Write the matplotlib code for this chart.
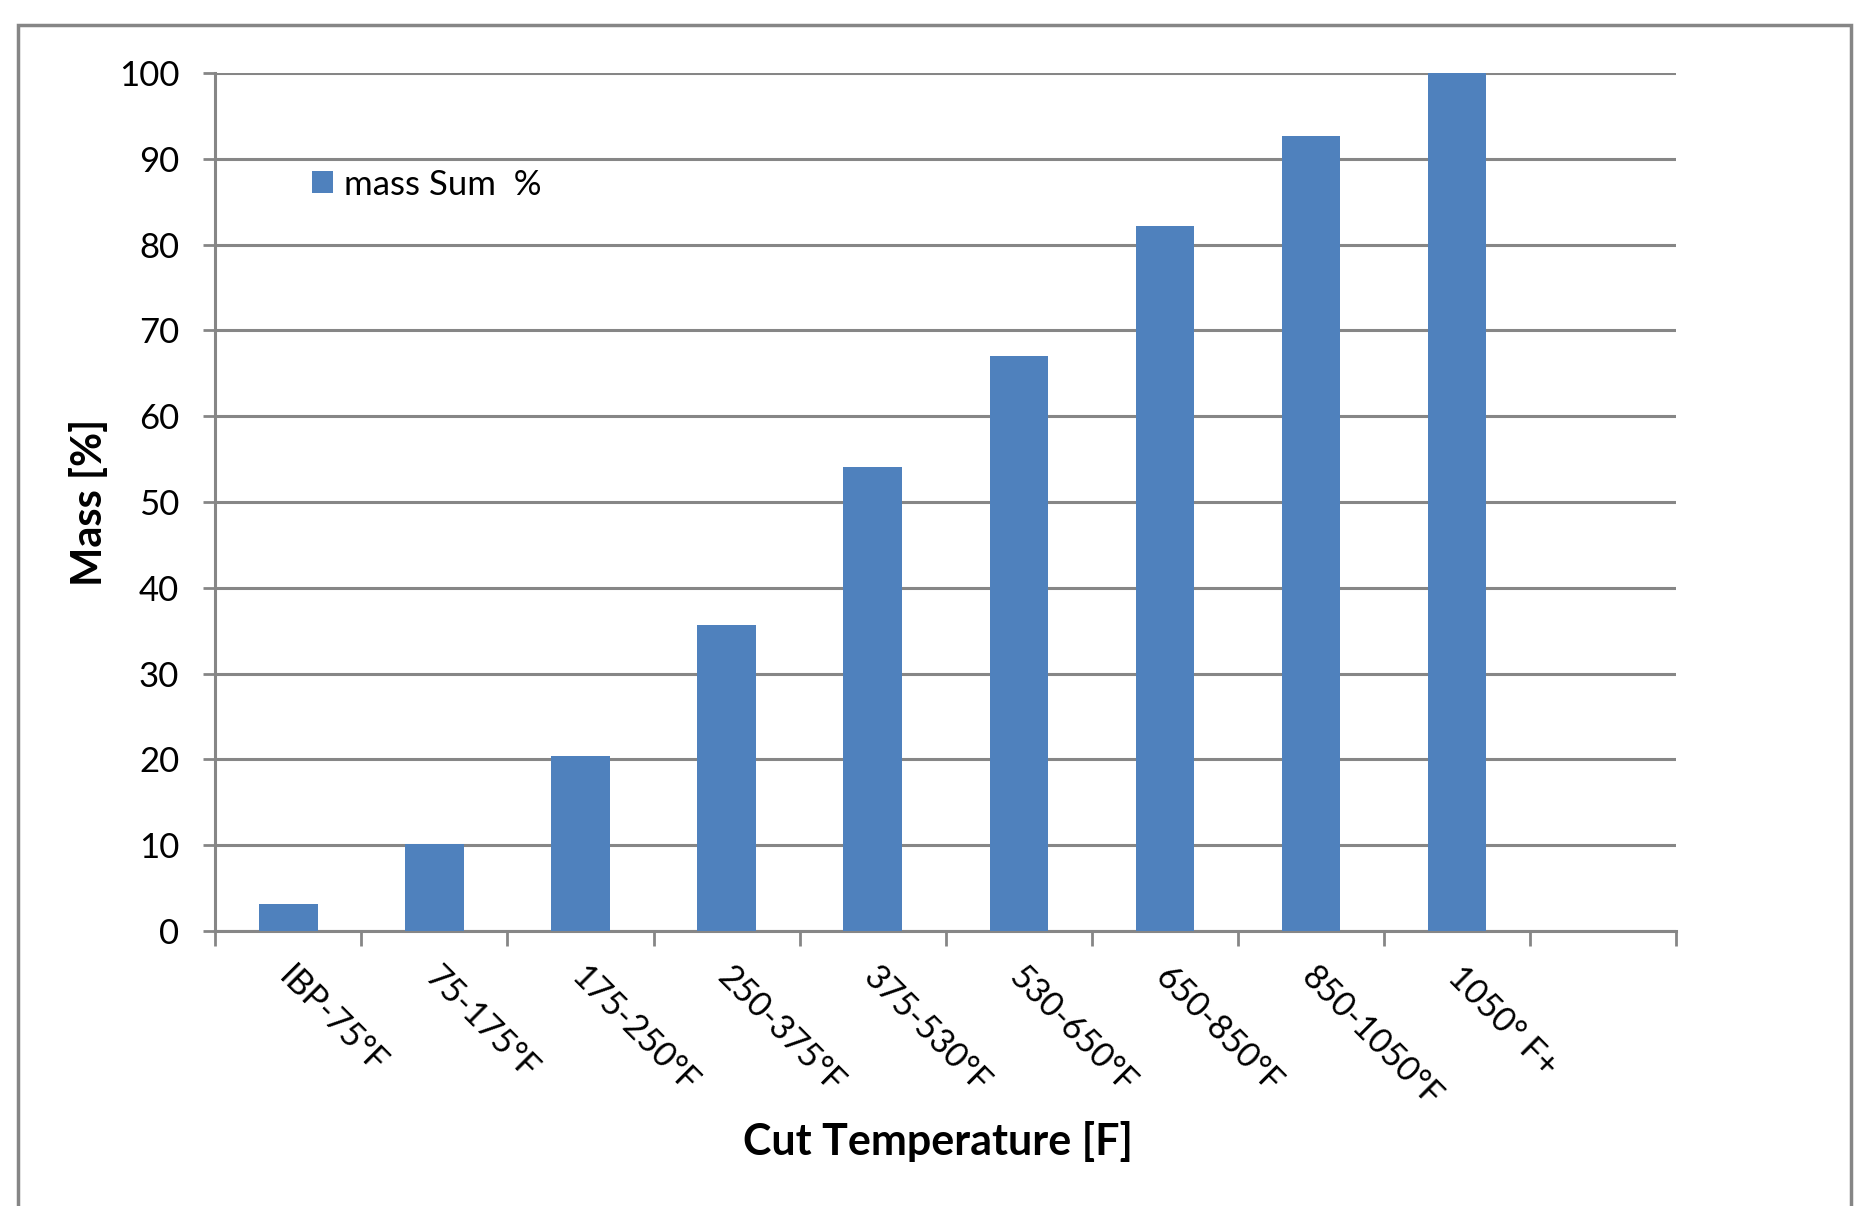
import matplotlib.pyplot as plt
import matplotlib.transforms as mtransforms
from matplotlib.patches import Rectangle
from matplotlib.ticker import FixedLocator

categories = ["IBP-75°F", "75-175°F", "175-250°F", "250-375°F", "375-530°F",
              "530-650°F", "650-850°F", "850-1050°F", "1050° F+"]
mass_sum = [3.2, 10.2, 20.4, 35.7, 54.1, 67.0, 82.2, 92.7, 100.0]
y_ticks = [0, 10, 20, 30, 40, 50, 60, 70, 80, 90, 100]

grey = "#868686"
plt.rcParams['font.family'] = ['Lato', 'DejaVu Sans']

fig = plt.figure(figsize=(18.66, 12.06), dpi=100)
ax = fig.add_axes([0.1154, 0.228, 0.7828, 0.7115])

# outer chart border (bottom edge runs off the picture)
fig.patches.append(Rectangle((0.0096, -0.05), 0.9824, 1.029, transform=fig.transFigure,
                             fill=False, edgecolor=grey, linewidth=2.5))

x = list(range(len(categories)))
ax.bar(x, mass_sum, width=0.4, color="#4F81BD", label="mass Sum  %", zorder=3)

ax.set_xlim(-0.5, len(categories) + 0.5)
ax.set_ylim(0, 100)
ax.set_yticks(y_ticks)
ax.set_yticklabels([str(v) for v in y_ticks], fontsize=25)
ax.yaxis.grid(True, color=grey, linewidth=2.2, zorder=1)
ax.tick_params(axis='y', length=9, width=2, color=grey, pad=17)

ax.set_xticks(x)
ax.set_xticklabels(categories, rotation=-45, ha='left', va='top',
                   rotation_mode='anchor', fontsize=24.5)
ax.tick_params(axis='x', which='major', length=0, pad=25)
shift = mtransforms.ScaledTranslation(0.07, 0.05, fig.dpi_scale_trans)
for lbl in ax.get_xticklabels():
    lbl.set_transform(lbl.get_transform() + shift)
ax.xaxis.set_minor_locator(FixedLocator([i - 0.5 for i in range(len(categories) + 2)]))
ax.tick_params(axis='x', which='minor', length=11, width=2, color=grey)

for side in ['top', 'right']:
    ax.spines[side].set_visible(False)
for side in ['left', 'bottom']:
    ax.spines[side].set_color(grey)
    ax.spines[side].set_linewidth(2.2)

ax.set_ylabel("Mass [%]", fontsize=30, fontweight='bold')
ax.set_xlabel("Cut Temperature [F]", fontsize=31, fontweight='bold')
ax.xaxis.set_label_coords(0.495, -0.221)
ax.yaxis.set_label_coords(-0.073, 0.5)

ax.legend(loc='upper left', bbox_to_anchor=(0.045, 0.925), frameon=False,
          fontsize=25, handlelength=0.6, handleheight=0.6, handletextpad=0.3)

fig.savefig("out.png", dpi=100, facecolor='white')
